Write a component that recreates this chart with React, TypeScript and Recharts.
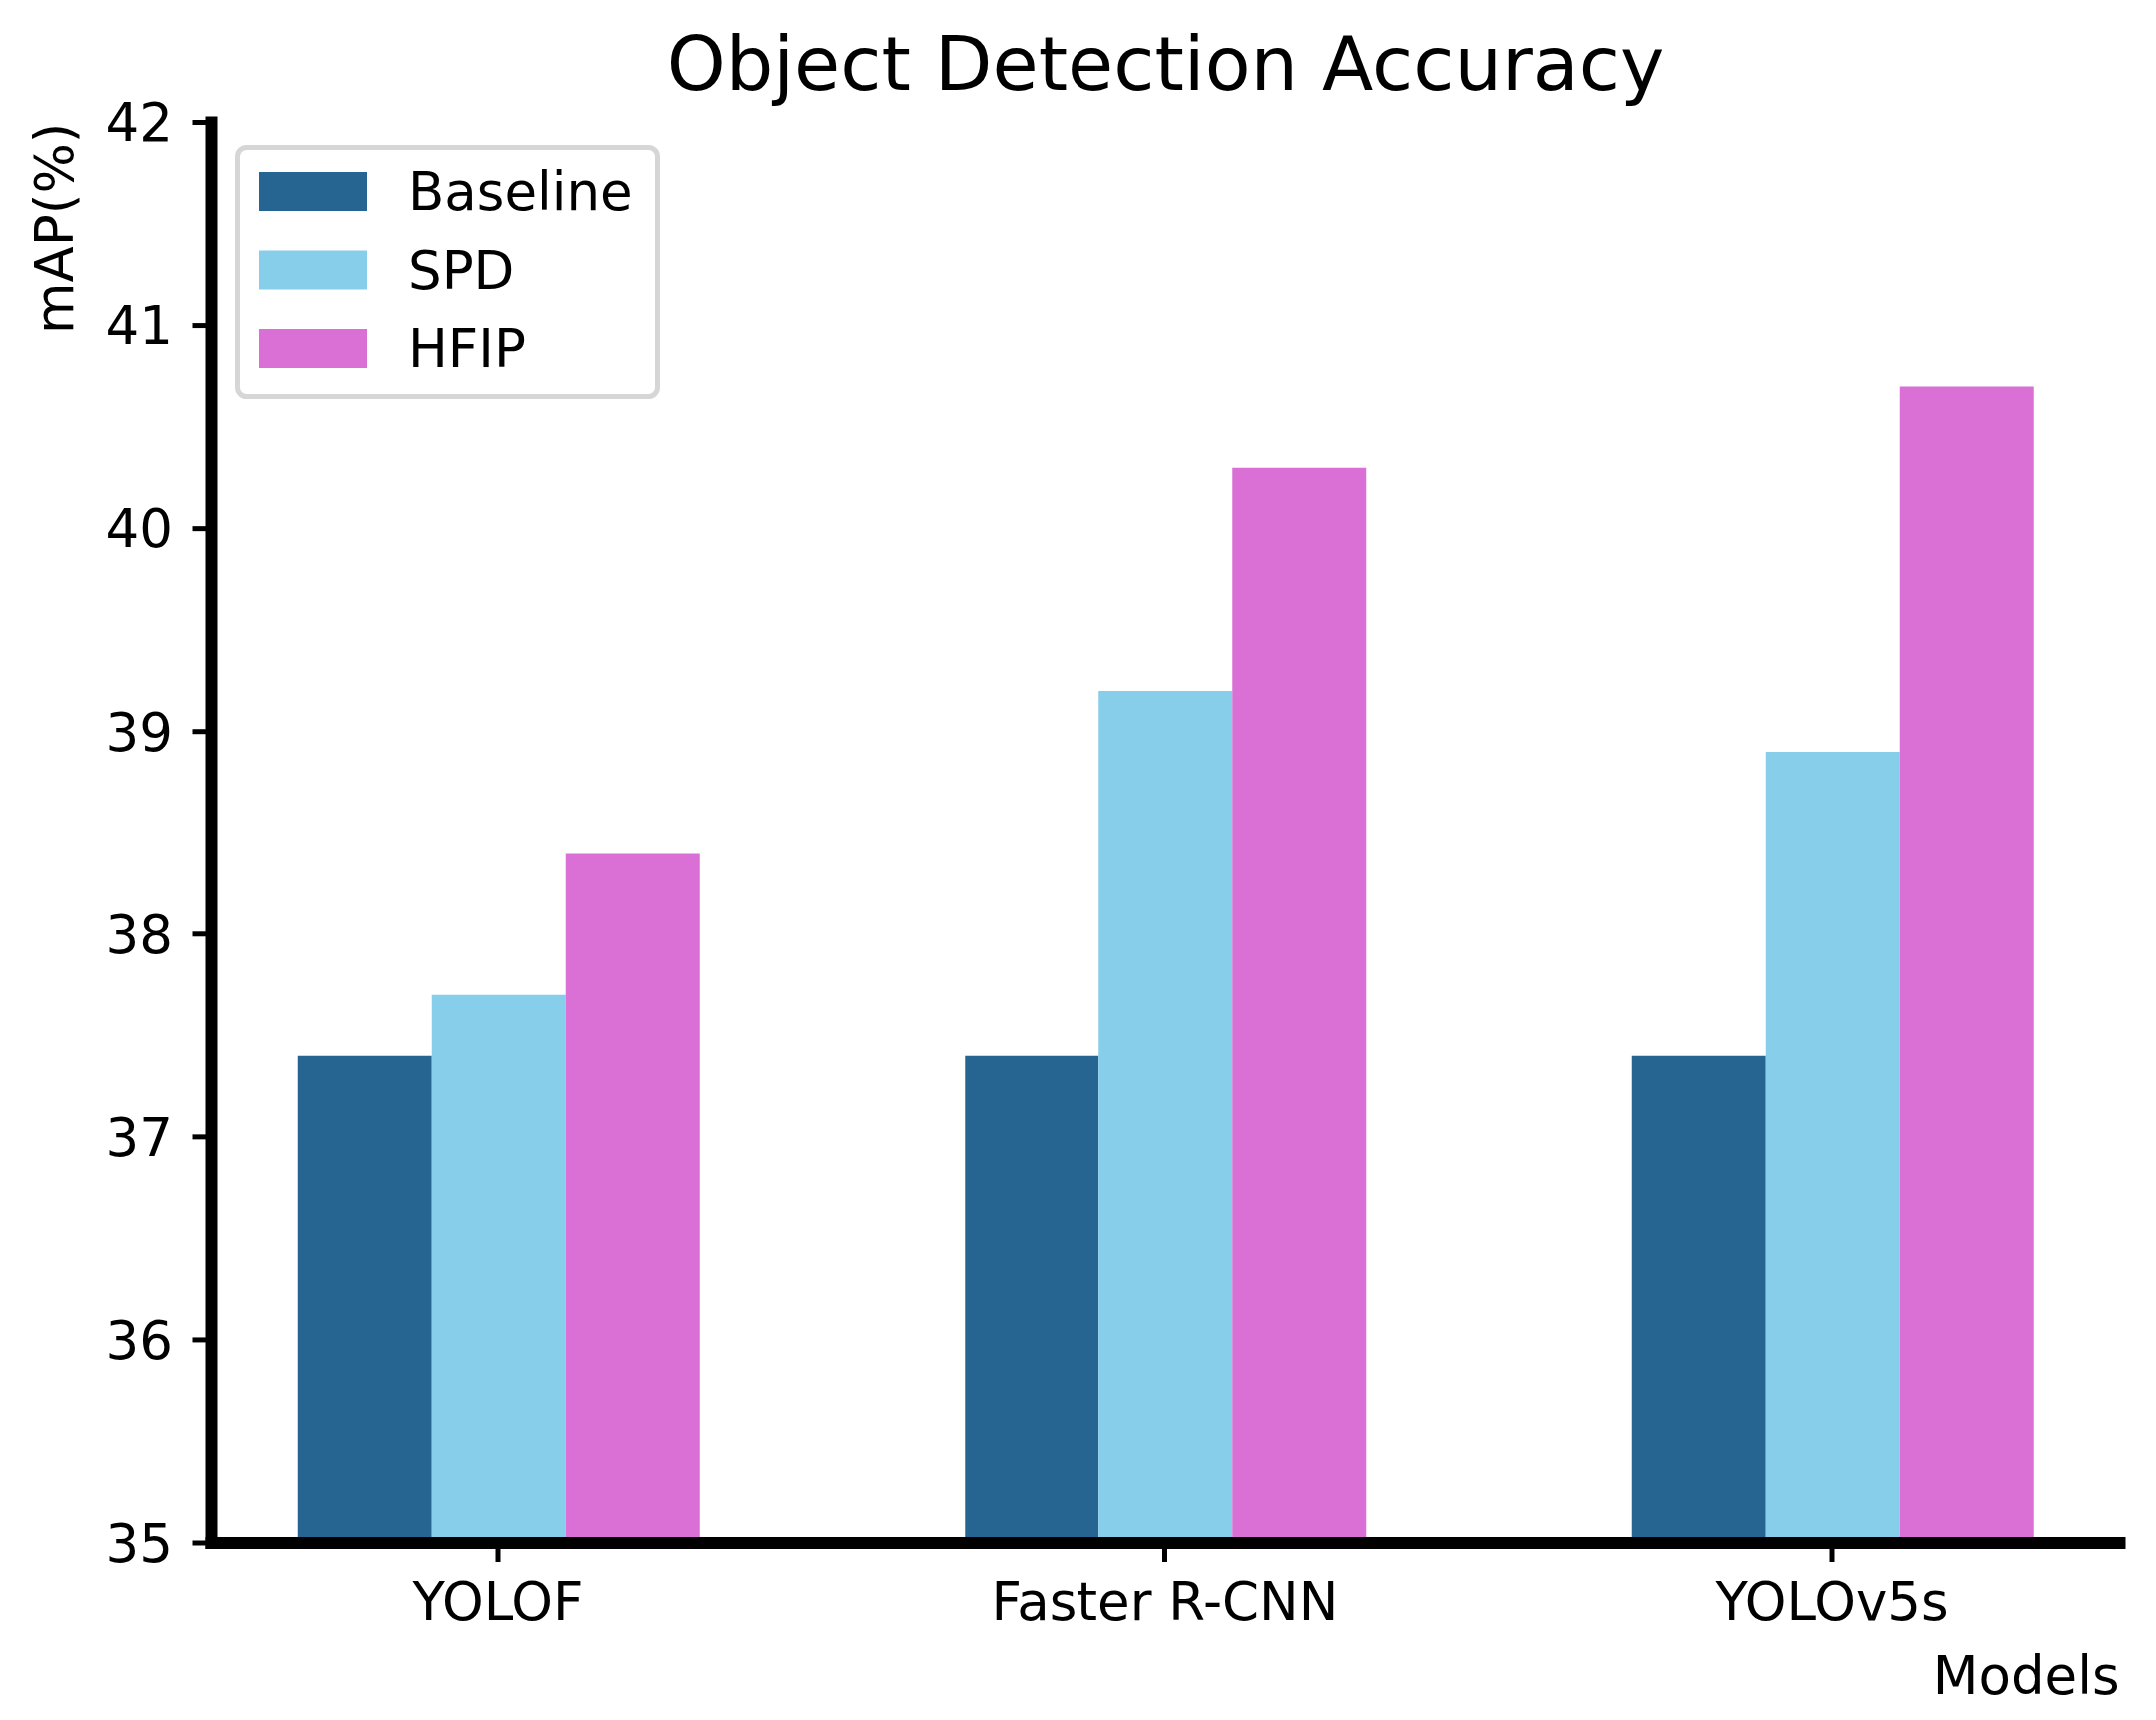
import React from 'react';
import { BarChart, Bar, XAxis, YAxis, Legend, Customized } from 'recharts';

const categories = ['YOLOF', 'Faster R-CNN', 'YOLOv5s'];
const seriesNames = ['Baseline', 'SPD', 'HFIP'];
const baselineValues = [37.4, 37.4, 37.4];
const spdValues = [37.7, 39.2, 38.9];
const hfipValues = [38.4, 40.3, 40.7];
const yTicks = [35, 36, 37, 38, 39, 40, 41, 42];

const data = categories.map((c, i) => ({
  model: c,
  Baseline: baselineValues[i],
  SPD: spdValues[i],
  HFIP: hfipValues[i],
}));

const FONT = '"DejaVu Sans", sans-serif';

const LegendContent = (props: any) => {
  const payload = [...(props.payload || [])].sort(
    (a: any, b: any) => seriesNames.indexOf(a.value) - seriesNames.indexOf(b.value)
  );
  return (
    <svg width={425} height={254} style={{ display: 'block' }}>
      <rect x={2.5} y={2.5} width={420} height={249} rx={9} ry={9} fill="#ffffff" stroke="#d6d6d6" strokeWidth={5} />
      {payload.map((p: any, i: number) => (
        <g key={p.value}>
          <rect x={24} y={27 + i * 78.5} width={108} height={39} fill={p.color} />
          <text x={173} y={65 + i * 78.5} fontSize={53} fontFamily={FONT} fill="#000">
            {p.value}
          </text>
        </g>
      ))}
    </svg>
  );
};

const Labels = () => (
  <g fontFamily={FONT} fill="#000">
    <text x={1166} y={90} fontSize={75} textAnchor="middle">Object Detection Accuracy</text>
    <text x={2120.5} y={1695} fontSize={53} textAnchor="end">Models</text>
    <text x={73} y={122.5} fontSize={53} textAnchor="end" transform="rotate(-90 73 122.5)">mAP(%)</text>
  </g>
);

export default function App() {
  return (
    <div style={{ position: 'absolute', left: 0, top: 0, width: 2157, height: 1721, background: '#fff' }}>
      <BarChart
        width={2157}
        height={1721}
        data={data}
        margin={{ top: 122.5, right: 36.5, bottom: 27, left: 61.5 }}
        barCategoryGap="20%"
        barGap={0}
      >
        <XAxis
          dataKey="model"
          height={150}
          interval={0}
          padding={{ left: -47.25, right: -46.25 }}
          tickSize={19}
          tickMargin={20}
          tick={{ fontSize: 53, fill: '#000', fontFamily: FONT }}
          axisLine={{ stroke: '#000', strokeWidth: 12, strokeLinecap: 'square' }}
          tickLine={{ stroke: '#000', strokeWidth: 5 }}
        />
        <YAxis
          width={150}
          domain={[35, 42]}
          ticks={yTicks}
          interval={0}
          tickSize={19}
          tickMargin={19.5}
          tick={{ fontSize: 53, fill: '#000', fontFamily: FONT }}
          axisLine={{ stroke: '#000', strokeWidth: 12, strokeLinecap: 'square' }}
          tickLine={{ stroke: '#000', strokeWidth: 5 }}
        />
        <Legend
          layout="vertical"
          align="center"
          verticalAlign="middle"
          content={<LegendContent />}
          wrapperStyle={{ position: 'absolute', left: 235, top: 145, width: 425, height: 254 }}
        />
        <Bar dataKey="Baseline" name="Baseline" fill="#266592" isAnimationActive={false} />
        <Bar dataKey="SPD" name="SPD" fill="#87CEEB" isAnimationActive={false} />
        <Bar dataKey="HFIP" name="HFIP" fill="#DA70D6" isAnimationActive={false} />
        <Customized component={Labels} />
      </BarChart>
    </div>
  );
}
